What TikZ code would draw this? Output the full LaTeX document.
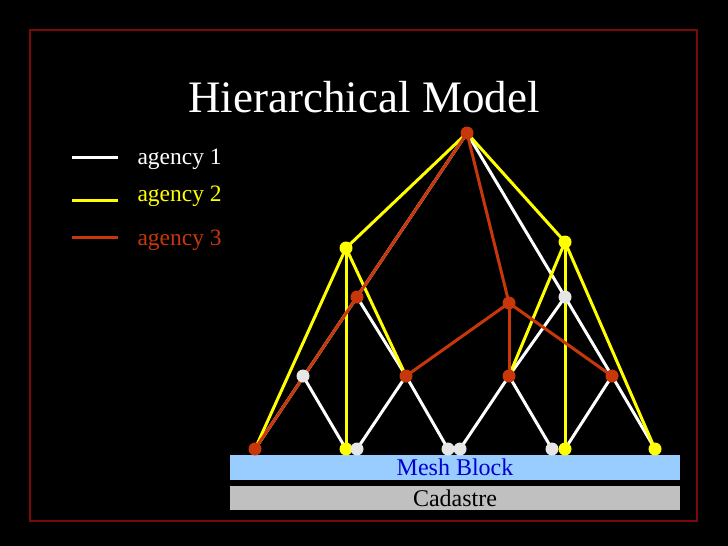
\documentclass[tikz,border=0pt]{standalone}
\usepackage{fontspec}
\setmainfont{Liberation Serif}
\definecolor{rd}{RGB}{200,55,10}
\definecolor{yl}{RGB}{255,255,0}
\definecolor{wh}{RGB}{230,230,230}
\definecolor{frame}{RGB}{120,10,10}
\definecolor{mesh}{RGB}{153,204,255}
\definecolor{cad}{RGB}{192,192,192}
\begin{document}
\begin{tikzpicture}[x=1pt,y=-1pt,
  dot/.style={circle,inner sep=0pt,minimum size=13pt},
  rdot/.style={dot,fill=rd},ydot/.style={dot,fill=yl},wdot/.style={dot,fill=wh},
  wl/.style={white,line width=3pt},yline/.style={yl,line width=3pt},rline/.style={rd,line width=3pt}]
\fill[black] (0,0) rectangle (728,546);
\useasboundingbox (0,0) rectangle (728,546);
\draw[frame,line width=2.5pt] (30,30) rectangle (697,521);
\node[white,font=\fontsize{45}{50}\selectfont] (title) at (364,97) {Hierarchical Model};
\coordinate (l1a) at (72,157); \coordinate (l1b) at (118,157);
\coordinate (l2a) at (72,200); \coordinate (l2b) at (118,200);
\coordinate (l3a) at (72,237); \coordinate (l3b) at (118,237);
\draw[wl] (l1a)--(l1b); \draw[yline] (l2a)--(l2b); \draw[rline] (l3a)--(l3b);
\node[white,anchor=west,font=\fontsize{23.5}{26}\selectfont] (t1) at (134,159) {agency 1};
\node[yl,anchor=west,font=\fontsize{23.5}{26}\selectfont] (t2) at (134,196) {agency 2};
\node[rd,anchor=west,font=\fontsize{23.5}{26}\selectfont] (t3) at (134,240) {agency 3};
\node[fill=mesh,minimum width=450pt,minimum height=25pt,inner sep=0pt,text=blue!80!black,font=\fontsize{24}{26}\selectfont] (mesh) at (455,467.5) {Mesh Block};
\node[fill=cad,minimum width=450pt,minimum height=24pt,inner sep=0pt,text=black,font=\fontsize{24}{26}\selectfont] (cad) at (455,498) {Cadastre};
\coordinate (T) at (467,133);
\coordinate (L1) at (346,248); \coordinate (R1) at (565,242);
\coordinate (A) at (357,297); \coordinate (B) at (509,303); \coordinate (W1) at (565,297);
\coordinate (m1) at (303,376); \coordinate (m2) at (406,376); \coordinate (m3) at (509,376); \coordinate (m4) at (612,376);
\coordinate (b1) at (255,449); \coordinate (b2) at (346,449); \coordinate (b3) at (357,449);
\coordinate (b4) at (448,449); \coordinate (b5) at (460,449); \coordinate (b6) at (552,449);
\coordinate (b7) at (565,449); \coordinate (b8) at (655,449);
% white
\draw[wl] (T)--(b1); \draw[wl] (T)--(W1); \draw[wl] (A)--(m2);
\draw[wl] (W1)--(m3); \draw[wl] (W1)--(m4);
\draw[wl] (m1)--(b2); \draw[wl] (m2)--(b3); \draw[wl] (m2)--(b4);
\draw[wl] (m3)--(b5); \draw[wl] (m3)--(b6); \draw[wl] (m4)--(b7); \draw[wl] (m4)--(b8);
% yellow
\draw[yline] (T)--(L1); \draw[yline] (T)--(R1);
\draw[yline] (L1)--(b1); \draw[yline] (L1)--(b2); \draw[yline] (L1)--(m2);
\draw[yline] (R1)--(m3); \draw[yline] (R1)--(b7); \draw[yline] (R1)--(b8);
% red
\draw[rline] (T)--(b1); \draw[rline] (T)--(B);
\draw[rline] (B)--(m2); \draw[rline] (B)--(m3); \draw[rline] (B)--(m4);
% dots
\node[rdot] (nT) at (T) {};
\node[ydot] (nL1) at (L1) {}; \node[ydot] (nR1) at (R1) {};
\node[rdot] (nA) at (A) {}; \node[rdot] (nB) at (B) {}; \node[wdot] (nW1) at (W1) {};
\node[wdot] (n1) at (m1) {}; \node[rdot] (n2) at (m2) {}; \node[rdot] (n3) at (m3) {}; \node[rdot] (n4) at (m4) {};
\node[rdot] (c1) at (b1) {}; \node[ydot] (c2) at (b2) {}; \node[wdot] (c3) at (b3) {};
\node[wdot] (c4) at (b4) {}; \node[wdot] (c5) at (b5) {}; \node[wdot] (c6) at (b6) {};
\node[ydot] (c7) at (b7) {}; \node[ydot] (c8) at (b8) {};
\end{tikzpicture}
\end{document}
